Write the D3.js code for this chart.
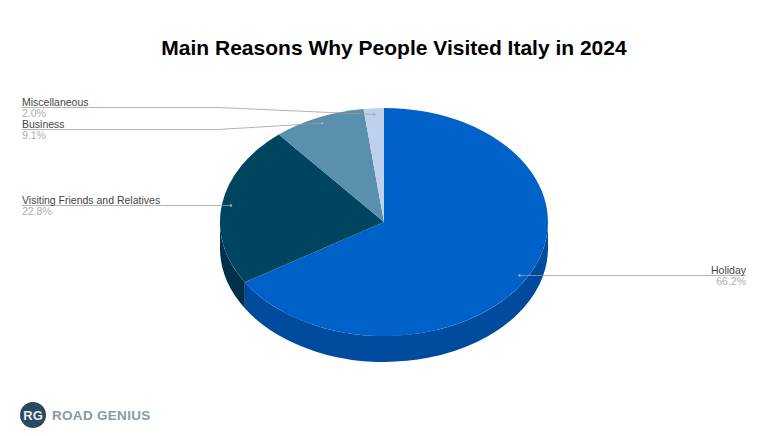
<!DOCTYPE html>
<html>
<head>
<meta charset="utf-8">
<script src="https://cdn.jsdelivr.net/npm/d3@7"></script>
<style>
    html, body { margin: 0; padding: 0; background: #fff; }
    svg { display: block; }
    text { font-family: "Liberation Sans", Arial, sans-serif; }
</style>
</head>
<body>
<svg id="chart" width="768" height="436"></svg>
<script>
const categories = ["Holiday", "Visiting Friends and Relatives", "Business", "Miscellaneous"];
const shares = [66.2, 22.8, 9.1, 2.0];
const topColors = ["#0061c8", "#004560", "#5a8fae", "#bdd1ec"];
const sideColors = ["#004b9e", "#003148", "#44708a", "#93a5bd"];

const width = 768;
const height = 436;
const cx = 384;
const cy = 222;
const rx = 164;
const ry = 114;
const depth = 26;
const labelRadius = 0.945;

const svg = d3.select("#chart");

svg.append("text")
    .attr("x", 394)
    .attr("y", 55)
    .attr("text-anchor", "middle")
    .attr("font-size", 21)
    .attr("font-weight", "bold")
    .attr("fill", "#000")
    .text("Main Reasons Why People Visited Italy in 2024");

const pie = d3.pie().sort(null).value(d => d.share);
const slices = pie(categories.map((name, i) => ({ name, share: shares[i], index: i })));

// angle 0 is at 12 o'clock and goes clockwise, same as d3.arc
const pointAt = (angle, r = 1) => [
    cx + rx * r * Math.sin(angle),
    cy - ry * r * Math.cos(angle)
];

// side wall, only the front half of the ellipse shows
const wallPath = (a0, a1) => {
    const [x0, y0] = pointAt(a0);
    const [x1, y1] = pointAt(a1);
    return `M${x0},${y0}A${rx},${ry} 0 0 1 ${x1},${y1}` +
        `L${x1},${y1 + depth}A${rx},${ry} 0 0 0 ${x0},${y0 + depth}Z`;
};

const walls = slices
    .map(d => ({
        index: d.data.index,
        a0: Math.max(d.startAngle, Math.PI / 2),
        a1: Math.min(d.endAngle, Math.PI * 3 / 2)
    }))
    .filter(d => d.a1 > d.a0);

svg.append("g").selectAll("path")
    .data(walls)
    .enter()
    .append("path")
    .attr("d", d => wallPath(d.a0, d.a1))
    .attr("fill", d => sideColors[d.index]);

// top face: a unit circle arc squashed into the ellipse
const arc = d3.arc().innerRadius(0).outerRadius(1);

svg.append("g")
    .attr("transform", `translate(${cx},${cy}) scale(${rx},${ry})`)
    .selectAll("path")
    .data(slices)
    .enter()
    .append("path")
    .attr("d", arc)
    .attr("fill", d => topColors[d.data.index]);

// leader line layout per category
const labelRows = [
    { y: 275.5, side: "right" },
    { y: 205.5, side: "left" },
    { y: 129.5, side: "left", bend: 218 },
    { y: 107.5, side: "left", bend: 218 }
];
const leftX = 22;
const rightX = 746;

const labels = svg.append("g");

slices.forEach(d => {
    const i = d.data.index;
    const row = labelRows[i];
    const [px, py] = pointAt((d.startAngle + d.endAngle) / 2, labelRadius);
    const edgeX = row.side === "left" ? leftX : rightX;

    const linePoints = [[px, py]];
    if (row.bend) linePoints.push([row.bend, row.y]);
    else linePoints[0] = [px, row.y];
    linePoints.push([edgeX, row.y]);

    labels.append("path")
        .attr("d", d3.line()(linePoints))
        .attr("fill", "none")
        .attr("stroke", "#999")
        .attr("stroke-opacity", 0.75)
        .attr("stroke-width", 1);

    labels.append("circle")
        .attr("cx", linePoints[0][0])
        .attr("cy", linePoints[0][1])
        .attr("r", 1.2)
        .attr("fill", "#aaa");

    const anchor = row.side === "left" ? "start" : "end";
    labels.append("text")
        .attr("x", edgeX)
        .attr("y", row.y - 1.5)
        .attr("text-anchor", anchor)
        .attr("font-size", 10.5)
        .attr("fill", "#444")
        .text(d.data.name);
    labels.append("text")
        .attr("x", edgeX)
        .attr("y", row.y + 9)
        .attr("text-anchor", anchor)
        .attr("font-size", 10.5)
        .attr("fill", "#aeaeae")
        .text(d3.format(".1f")(d.data.share) + "%");
});

// logo
const logo = svg.append("g");
logo.append("circle")
    .attr("cx", 33)
    .attr("cy", 415)
    .attr("r", 13)
    .attr("fill", "#2a4a60");
logo.append("text")
    .attr("x", 33)
    .attr("y", 420)
    .attr("text-anchor", "middle")
    .attr("font-size", 13)
    .attr("font-weight", "bold")
    .attr("fill", "#e9eef2")
    .text("RG");
logo.append("text")
    .attr("x", 52)
    .attr("y", 420)
    .attr("font-size", 13.5)
    .attr("font-weight", "bold")
    .attr("letter-spacing", 0.3)
    .attr("fill", "#8b99a5")
    .text("ROAD GENIUS");
</script>
</body>
</html>
